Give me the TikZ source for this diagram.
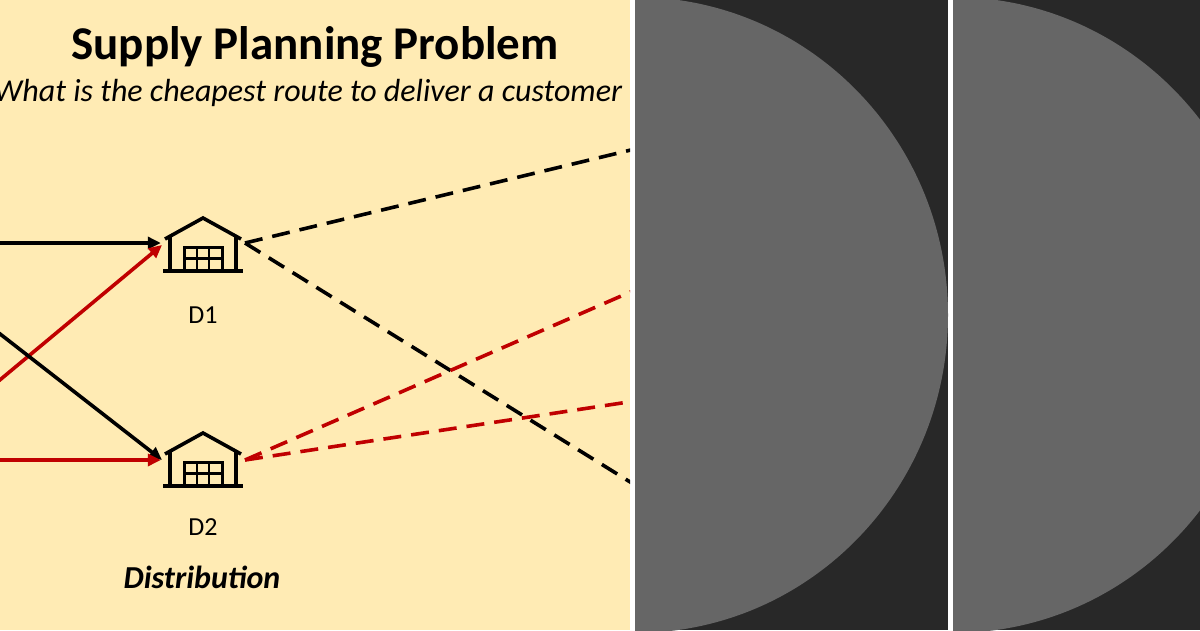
\documentclass[tikz,border=0pt]{standalone}
\usepackage{fontspec}
\setmainfont{Carlito}
\usetikzlibrary{arrows.meta}
\definecolor{paper}{HTML}{FFEBB4}
\definecolor{darkbg}{HTML}{282828}
\definecolor{greyf}{HTML}{666666}
\definecolor{redl}{HTML}{C00000}
\tikzset{
  conn/.style={line width=3.6pt,-{Triangle[length=13pt,width=12pt]}},
  dconn/.style={line width=3.6pt,dash pattern=on 18pt off 10pt},
  whouse/.style={minimum width=84pt,minimum height=56pt,inner sep=0pt},
  pics/warehouse/.style={code={
    \draw[line width=3.6pt,line join=miter] (-38,-6) -- (0,-27) -- (38,-6);
    \draw[line width=3.6pt] (-33,-9) -- (-33,25) (33,-9) -- (33,25);
    \draw[line width=3.6pt] (-40,26) -- (40,26);
    \draw[line width=3pt] (-19,2) rectangle (19,25);
    \draw[line width=2.2pt] (-6.3,2) -- (-6.3,25) (6.3,2) -- (6.3,25) (-19,13.5) -- (19,13.5);
  }}
}
\begin{document}
\begin{tikzpicture}[x=1pt,y=-1pt]
\useasboundingbox (0,0) rectangle (1200,630);
\fill[white] (0,0) rectangle (1200,630);
\fill[paper] (0,0) rectangle (630,630);
\fill[darkbg] (635,0) rectangle (948,630);
\fill[darkbg] (953,0) rectangle (1200,630);
\begin{scope}
\clip (635,0) rectangle (948,630);
\fill[greyf] (635,315) ellipse [x radius=313, y radius=318];
\end{scope}
\begin{scope}
\clip (953,0) rectangle (1200,630);
\fill[greyf] (953,315) ellipse [x radius=313, y radius=318];
\end{scope}
\begin{scope}
\clip (0,0) rectangle (630,630);
\node[font=\bfseries\fontsize{47}{50}\selectfont] (title) at (315,47) {Supply Planning Problem};
\node[font=\itshape\fontsize{32}{36}\selectfont] (sub) at (308,93) {What is the cheapest route to deliver a customer};
\node[whouse] (D1) at (203,245) {};
\node[whouse] (D2) at (203,460) {};
\pic at (D1) {warehouse};
\pic at (D2) {warehouse};
\node[font=\fontsize{26}{30}\selectfont] (l1) at (203,315) {D1};
\node[font=\fontsize{26}{30}\selectfont] (l2) at (203,527) {D2};
\node[font=\bfseries\itshape\fontsize{32}{36}\selectfont] (dist) at (202,577) {Distribution};
\coordinate (a1) at (-5,243);
\coordinate (a2) at (-5,384);
\coordinate (a3) at (-5,330);
\coordinate (a4) at (-5,460);
\coordinate (b1) at (635,149);
\coordinate (b2) at (635,485);
\coordinate (b3) at (635,290);
\coordinate (b4) at (635,401);
\draw[conn] (a1) -- (D1.west |- a1);
\draw[conn,redl] (a2) -- (162,245);
\draw[conn] (a3) -- (162,460);
\draw[conn,redl] (a4) -- (D2.west |- a4);
\draw[dconn] (245,243) -- (b1);
\draw[dconn] (245,243) -- (b2);
\draw[dconn,redl] (245,460) -- (b3);
\draw[dconn,redl] (245,460) -- (b4);
\end{scope}
\end{tikzpicture}
\end{document}
